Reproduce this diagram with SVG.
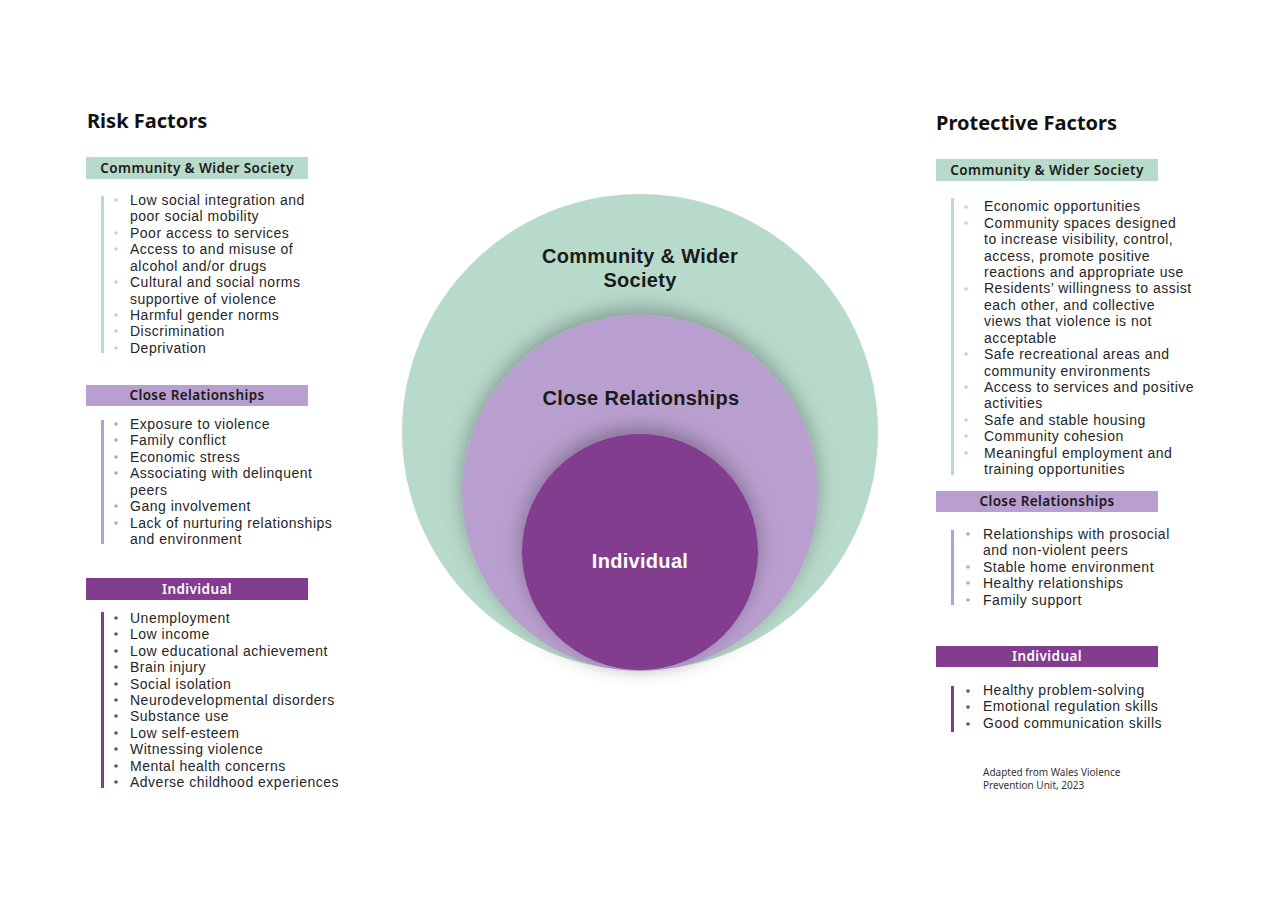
<svg xmlns="http://www.w3.org/2000/svg" width="1280" height="905" viewBox="0 0 1280 905">
<defs>
<filter id="sh" x="-30%" y="-30%" width="160%" height="160%">
<feDropShadow dx="0" dy="-6" stdDeviation="10" flood-color="#000" flood-opacity="0.3"/>
</filter>
</defs>
<style>
text{font-family:"Noto Sans","Liberation Sans",sans-serif;fill:#1f1f1f}
.title{font-size:20px;font-weight:700;fill:#111}
.hdr{font-size:13.5px;font-weight:600;text-anchor:middle;fill:#1a1a1a;letter-spacing:0.4px}
.hdrw{font-size:13.5px;font-weight:600;text-anchor:middle;fill:#fff;letter-spacing:0.4px}
.it{font-family:"Liberation Sans",Arial,sans-serif;font-size:14px;fill:#262626;letter-spacing:0.5px}
.big{font-family:"Liberation Sans",Arial,sans-serif;font-size:20px;font-weight:700;text-anchor:middle;fill:#1a1a1a;letter-spacing:0.3px}
.foot{font-size:10px;fill:#333}
.g{fill:#b8dacb}.p{fill:#b99fcf}.d{fill:#823d8f}
</style>
<rect width="1280" height="905" fill="#fff"/>

<g id="circles">
<circle cx="640" cy="432" r="238" class="g"/>
<circle cx="640" cy="493" r="178" class="p" filter="url(#sh)"/>
<circle cx="640" cy="552" r="118" class="d" filter="url(#sh)"/>
<text class="big" x="640" y="263">Community &amp; Wider</text>
<text class="big" x="640" y="287">Society</text>
<text class="big" x="641" y="405">Close Relationships</text>
<text class="big" x="640" y="568" style="fill:#fff">Individual</text>
</g>

<g id="risk">
<text class="title" x="87" y="128">Risk Factors</text>
<g id="risk-community">
<rect x="86" y="157" width="222" height="22" class="g"/>
<text class="hdr" x="197" y="173">Community &amp; Wider Society</text>
<rect x="101" y="196" width="3" height="157" class="g"/>
<g class="g"><circle cx="116" cy="200" r="1.8"/><circle cx="116" cy="233" r="1.8"/><circle cx="116" cy="249" r="1.8"/><circle cx="116" cy="282" r="1.8"/><circle cx="116" cy="315" r="1.8"/><circle cx="116" cy="331" r="1.8"/><circle cx="116" cy="348" r="1.8"/></g>
<text class="it" x="130" y="205">Low social integration and</text>
<text class="it" x="130" y="221">poor social mobility</text>
<text class="it" x="130" y="238">Poor access to services</text>
<text class="it" x="130" y="254">Access to and misuse of</text>
<text class="it" x="130" y="271">alcohol and/or drugs</text>
<text class="it" x="130" y="287">Cultural and social norms</text>
<text class="it" x="130" y="304">supportive of violence</text>
<text class="it" x="130" y="320">Harmful gender norms</text>
<text class="it" x="130" y="336">Discrimination</text>
<text class="it" x="130" y="353">Deprivation</text>
</g>
<g id="risk-close">
<rect x="86" y="385" width="222" height="21" class="p"/>
<text class="hdr" x="197" y="400">Close Relationships</text>
<rect x="101" y="420" width="3" height="124" class="p"/>
<g class="p"><circle cx="116" cy="424" r="1.8"/><circle cx="116" cy="440" r="1.8"/><circle cx="116" cy="457" r="1.8"/><circle cx="116" cy="473" r="1.8"/><circle cx="116" cy="506" r="1.8"/><circle cx="116" cy="523" r="1.8"/></g>
<text class="it" x="130" y="429">Exposure to violence</text>
<text class="it" x="130" y="445">Family conflict</text>
<text class="it" x="130" y="462">Economic stress</text>
<text class="it" x="130" y="478">Associating with delinquent</text>
<text class="it" x="130" y="495">peers</text>
<text class="it" x="130" y="511">Gang involvement</text>
<text class="it" x="130" y="528">Lack of nurturing relationships</text>
<text class="it" x="130" y="544">and environment</text>
</g>
<g id="risk-individual">
<rect x="86" y="578" width="222" height="22" class="d"/>
<text class="hdrw" x="197" y="594">Individual</text>
<rect x="101" y="612" width="3" height="176" class="d"/>
<g class="d"><circle cx="116" cy="618" r="1.8"/><circle cx="116" cy="634" r="1.8"/><circle cx="116" cy="651" r="1.8"/><circle cx="116" cy="667" r="1.8"/><circle cx="116" cy="684" r="1.8"/><circle cx="116" cy="700" r="1.8"/><circle cx="116" cy="716" r="1.8"/><circle cx="116" cy="733" r="1.8"/><circle cx="116" cy="749" r="1.8"/><circle cx="116" cy="766" r="1.8"/><circle cx="116" cy="782" r="1.8"/></g>
<text class="it" x="130" y="623">Unemployment</text>
<text class="it" x="130" y="639">Low income</text>
<text class="it" x="130" y="656">Low educational achievement</text>
<text class="it" x="130" y="672">Brain injury</text>
<text class="it" x="130" y="689">Social isolation</text>
<text class="it" x="130" y="705">Neurodevelopmental disorders</text>
<text class="it" x="130" y="721">Substance use</text>
<text class="it" x="130" y="738">Low self-esteem</text>
<text class="it" x="130" y="754">Witnessing violence</text>
<text class="it" x="130" y="771">Mental health concerns</text>
<text class="it" x="130" y="787">Adverse childhood experiences</text>
</g>
</g>

<g id="protective">
<text class="title" x="936" y="130">Protective Factors</text>
<g id="prot-community">
<rect x="936" y="159" width="222" height="22" class="g"/>
<text class="hdr" x="1047" y="175">Community &amp; Wider Society</text>
<rect x="951" y="198" width="3" height="277" class="g"/>
<g class="g"><circle cx="966" cy="207" r="1.8"/><circle cx="966" cy="223" r="1.8"/><circle cx="966" cy="289" r="1.8"/><circle cx="966" cy="354" r="1.8"/><circle cx="966" cy="387" r="1.8"/><circle cx="966" cy="420" r="1.8"/><circle cx="966" cy="436" r="1.8"/><circle cx="966" cy="453" r="1.8"/></g>
<text class="it" x="984" y="211">Economic opportunities</text>
<text class="it" x="984" y="228">Community spaces designed</text>
<text class="it" x="984" y="244">to increase visibility, control,</text>
<text class="it" x="984" y="261">access, promote positive</text>
<text class="it" x="984" y="277">reactions and appropriate use</text>
<text class="it" x="984" y="293">Residents’ willingness to assist</text>
<text class="it" x="984" y="310">each other, and collective</text>
<text class="it" x="984" y="326">views that violence is not</text>
<text class="it" x="984" y="343">acceptable</text>
<text class="it" x="984" y="359">Safe recreational areas and</text>
<text class="it" x="984" y="376">community environments</text>
<text class="it" x="984" y="392">Access to services and positive</text>
<text class="it" x="984" y="408">activities</text>
<text class="it" x="984" y="425">Safe and stable housing</text>
<text class="it" x="984" y="441">Community cohesion</text>
<text class="it" x="984" y="458">Meaningful employment and</text>
<text class="it" x="984" y="474">training opportunities</text>
</g>
<g id="prot-close">
<rect x="936" y="491" width="222" height="21" class="p"/>
<text class="hdr" x="1047" y="506">Close Relationships</text>
<rect x="951" y="530" width="3" height="75" class="p"/>
<g class="p"><circle cx="968" cy="534" r="1.8"/><circle cx="968" cy="567" r="1.8"/><circle cx="968" cy="583" r="1.8"/><circle cx="968" cy="600" r="1.8"/></g>
<text class="it" x="983" y="539">Relationships with prosocial</text>
<text class="it" x="983" y="555">and non-violent peers</text>
<text class="it" x="983" y="572">Stable home environment</text>
<text class="it" x="983" y="588">Healthy relationships</text>
<text class="it" x="983" y="605">Family support</text>
</g>
<g id="prot-individual">
<rect x="936" y="646" width="222" height="21" class="d"/>
<text class="hdrw" x="1047" y="661">Individual</text>
<rect x="951" y="686" width="3" height="46" class="d"/>
<g class="d"><circle cx="968" cy="691" r="1.8"/><circle cx="968" cy="707" r="1.8"/><circle cx="968" cy="724" r="1.8"/></g>
<text class="it" x="983" y="695">Healthy problem-solving</text>
<text class="it" x="983" y="711">Emotional regulation skills</text>
<text class="it" x="983" y="728">Good communication skills</text>
</g>
<g id="footnote">
<text class="foot" x="983" y="776"><tspan x="983" y="776">Adapted from Wales Violence</tspan><tspan x="983" y="789">Prevention Unit, 2023</tspan></text>
</g>
</g>
</svg>
